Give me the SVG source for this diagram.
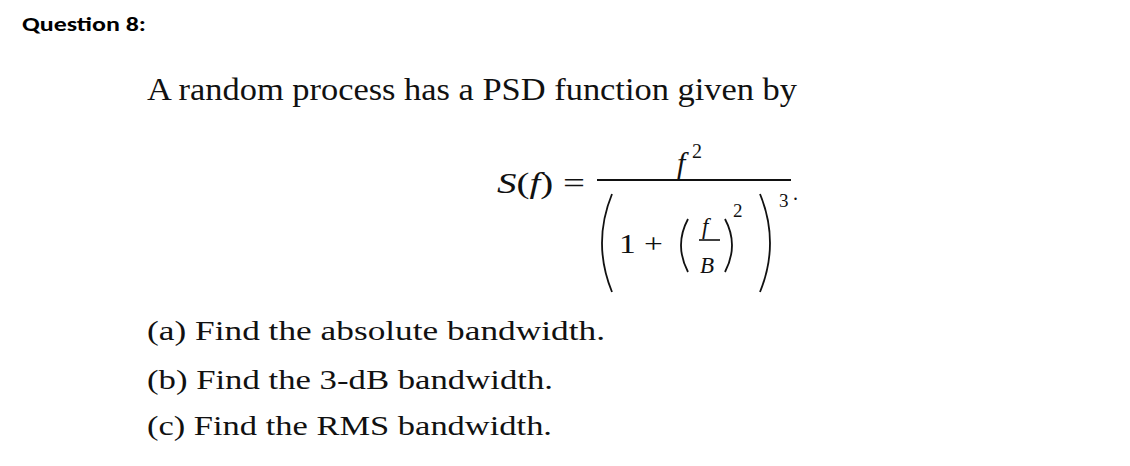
<svg xmlns="http://www.w3.org/2000/svg" width="1130" height="466" viewBox="0 0 1130 466">
<style>
.s{font-family:"Liberation Serif",serif;fill:#111}
.i{font-style:italic}
.p{fill:none;stroke:#111;stroke-width:1.8}
</style>
<rect width="1130" height="466" fill="#fff"/>
<text x="22" y="31" font-family="Calibri,Carlito,'Liberation Sans',sans-serif" font-weight="bold" font-size="21" textLength="124" lengthAdjust="spacingAndGlyphs">Question 8:</text>
<text class="s" x="147" y="100" font-size="31" textLength="650" lengthAdjust="spacingAndGlyphs">A random process has a PSD function given by</text>
<text class="s" x="497" y="193" font-size="30" textLength="88" lengthAdjust="spacingAndGlyphs"><tspan class="i">S</tspan>(<tspan class="i">f</tspan>) =</text>
<text class="s i" x="677" y="173" font-size="30">f</text>
<text class="s" x="692" y="158" font-size="20">2</text>
<line x1="597" y1="180" x2="791" y2="180" stroke="#111" stroke-width="2.2"/>
<path class="p" d="M612,194 Q592,243 612,292"/>
<text class="s" x="619" y="253" font-size="28" textLength="44" lengthAdjust="spacingAndGlyphs">1 +</text>
<path class="p" d="M688,219 Q674,245 688,272"/>
<text class="s i" x="702" y="234" font-size="23">f</text>
<line x1="699" y1="240" x2="720" y2="240" stroke="#111" stroke-width="1.6"/>
<text class="s i" x="700" y="273" font-size="23">B</text>
<path class="p" d="M725,219 Q739,245 725,272"/>
<text class="s" x="733" y="217" font-size="19">2</text>
<path class="p" d="M760,194 Q780,243 760,292"/>
<text class="s" x="779" y="207" font-size="19">3</text>
<text class="s" x="793" y="200" font-size="20">.</text>
<text class="s" x="147" y="340" font-size="28" textLength="458" lengthAdjust="spacingAndGlyphs">(a)  Find the absolute bandwidth.</text>
<text class="s" x="147" y="389" font-size="28" textLength="406" lengthAdjust="spacingAndGlyphs">(b)  Find the 3-dB bandwidth.</text>
<text class="s" x="147" y="435" font-size="28" textLength="405" lengthAdjust="spacingAndGlyphs">(c)  Find the RMS bandwidth.</text>
</svg>
